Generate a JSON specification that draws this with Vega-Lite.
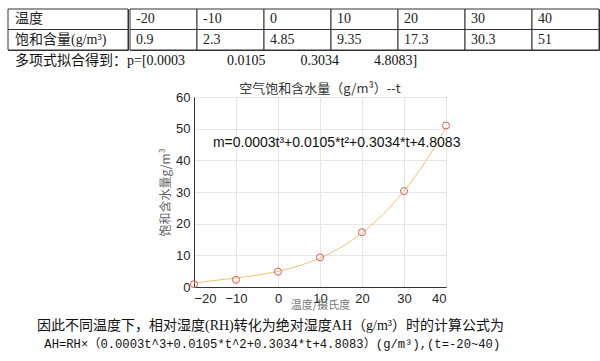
{
  "$schema": "https://vega.github.io/schema/vega-lite/v6.json",
  "padding": {"left": 7, "top": 8, "right": 4, "bottom": 4},
  "background": "white",
  "config": {
    "view": {"stroke": "#333", "strokeWidth": 1},
    "font": "Liberation Sans"
  },
  "datasets": {
    "labels": [
      {"row": 1, "col": "h", "text": "温度"},
      {"row": 2, "col": "h", "text": "饱和含量(g/m³)"}
    ],
    "cells": [
      {"row": 1, "col": 1, "text": "-20"},
      {"row": 1, "col": 2, "text": "-10"},
      {"row": 1, "col": 3, "text": "0"},
      {"row": 1, "col": 4, "text": "10"},
      {"row": 1, "col": 5, "text": "20"},
      {"row": 1, "col": 6, "text": "30"},
      {"row": 1, "col": 7, "text": "40"},
      {"row": 2, "col": 1, "text": "0.9"},
      {"row": 2, "col": 2, "text": "2.3"},
      {"row": 2, "col": 3, "text": "4.85"},
      {"row": 2, "col": 4, "text": "9.35"},
      {"row": 2, "col": 5, "text": "17.3"},
      {"row": 2, "col": 6, "text": "30.3"},
      {"row": 2, "col": 7, "text": "51"}
    ],
    "points": [
      {"t": -20, "m": 0.9},
      {"t": -10, "m": 2.3},
      {"t": 0, "m": 4.85},
      {"t": 10, "m": 9.35},
      {"t": 20, "m": 17.3},
      {"t": 30, "m": 30.3},
      {"t": 40, "m": 51}
    ],
    "curve": [
      {"t": -20, "m": 1.22}, {"t": -17.5, "m": 1.67}, {"t": -15, "m": 2.07}, {"t": -12.5, "m": 2.45},
      {"t": -10, "m": 2.84}, {"t": -7.5, "m": 3.26}, {"t": -5, "m": 3.73}, {"t": -2.5, "m": 4.29},
      {"t": 0, "m": 4.95}, {"t": 2.5, "m": 5.74}, {"t": 5, "m": 6.69}, {"t": 7.5, "m": 7.82},
      {"t": 10, "m": 9.16}, {"t": 12.5, "m": 10.73}, {"t": 15, "m": 12.55}, {"t": 17.5, "m": 14.66},
      {"t": 20, "m": 17.07}, {"t": 22.5, "m": 19.82}, {"t": 25, "m": 22.92}, {"t": 27.5, "m": 26.41},
      {"t": 30, "m": 30.30}, {"t": 32.5, "m": 34.63}, {"t": 35, "m": 39.41}, {"t": 37.5, "m": 44.68},
      {"t": 40, "m": 50.45}
    ],
    "note": [
      {"t": -15.5, "m": 45.5, "label": "m=0.0003t³+0.0105*t²+0.3034*t+4.8083"}
    ],
    "none": []
  },
  "title": {
    "text": "因此不同温度下，相对湿度(RH)转化为绝对湿度AH（g/m³）时的计算公式为",
    "subtitle": "\u200b\u00a0AH=RH×（0.0003t^3+0.0105*t^2+0.3034*t+4.8083）(g/m³),(t=-20~40)",
    "orient": "bottom",
    "anchor": "start",
    "align": "left",
    "dx": 30,
    "offset": 8,
    "font": "Liberation Serif, Noto Sans CJK SC",
    "fontSize": 14,
    "fontWeight": "normal",
    "color": "#111",
    "subtitleFont": "Liberation Mono, Noto Sans CJK SC",
    "subtitleFontSize": 12.2,
    "subtitleColor": "#111",
    "subtitlePadding": 5
  },
  "spacing": 14,
  "vconcat": [
    {
      "spacing": 0,
      "title": {
        "text": "多项式拟合得到：p=[0.0003\u00a0\u00a0\u00a0\u00a0\u00a0\u00a0\u00a0\u00a0\u00a0\u00a0\u00a0\u00a00.0105\u00a0\u00a0\u00a0\u00a0\u00a0\u00a0\u00a0\u00a0\u00a0\u00a00.3034\u00a0\u00a0\u00a0\u00a0\u00a0\u00a0\u00a0\u00a0\u00a0\u00a04.8083]",
        "orient": "bottom",
        "anchor": "start",
        "align": "left",
        "dx": 8,
        "offset": 3,
        "font": "Liberation Serif, Noto Sans CJK SC",
        "fontSize": 14,
        "fontWeight": "normal",
        "color": "#111"
      },
      "hconcat": [
        {
          "width": 120,
          "height": 41,
          "data": {"name": "labels"},
          "encoding": {
            "y": {"field": "row", "type": "ordinal", "axis": null, "scale": {"paddingInner": 0, "paddingOuter": 0}},
            "x": {"field": "col", "type": "nominal", "axis": null, "scale": {"paddingInner": 0, "paddingOuter": 0}}
          },
          "layer": [
            {"mark": {"type": "rect", "fill": "white", "stroke": "#333", "strokeWidth": 1}},
            {
              "mark": {"type": "text", "align": "left", "dx": 7, "fontSize": 14, "font": "Liberation Serif, Noto Sans CJK SC", "color": "#222"},
              "encoding": {
                "x": {"field": "col", "type": "nominal", "bandPosition": 0, "axis": null},
                "text": {"field": "text"}
              }
            }
          ]
        },
        {
          "width": 469,
          "height": 41,
          "data": {"name": "cells"},
          "encoding": {
            "y": {"field": "row", "type": "ordinal", "axis": null, "scale": {"paddingInner": 0, "paddingOuter": 0}},
            "x": {"field": "col", "type": "ordinal", "axis": null, "scale": {"paddingInner": 0, "paddingOuter": 0}}
          },
          "layer": [
            {"mark": {"type": "rect", "fill": "white", "stroke": "#333", "strokeWidth": 1}},
            {
              "mark": {"type": "text", "align": "left", "dx": 6, "fontSize": 14, "font": "Liberation Serif, Noto Sans CJK SC", "color": "#222"},
              "encoding": {
                "x": {"field": "col", "type": "ordinal", "bandPosition": 0, "axis": null},
                "text": {"field": "text"}
              }
            }
          ]
        }
      ]
    },
    {
      "spacing": 0,
      "hconcat": [
        {
          "width": 150,
          "height": 190,
          "view": {"stroke": "white", "fill": "white"},
          "data": {"name": "none"},
          "mark": {"type": "text"}
        },
        {
          "width": 252,
          "height": 190,
          "title": {
            "text": "空气饱和含水量（g/m³）--t",
            "frame": "group",
            "fontSize": 13,
            "fontWeight": "normal",
            "color": "#333",
            "offset": -5,
            "font": "Noto Sans CJK SC"
          },
          "encoding": {
            "x": {
              "field": "t", "type": "quantitative",
              "scale": {"domain": [-20, 40], "nice": false, "zero": false},
              "axis": {
                "title": "温度/摄氏度",
                "values": [-20, -10, 0, 10, 20, 30, 40],
                "grid": true, "gridColor": "#e6e6e6",
                "domainColor": "#333", "ticks": false,
                "labelFont": "Liberation Sans", "labelFontSize": 13, "labelColor": "#262626", "labelPadding": 5,
                "titleFont": "Noto Sans CJK SC", "titleFontSize": 11, "titleColor": "#777", "titleFontWeight": "normal",
                "titlePadding": -6
              }
            },
            "y": {
              "field": "m", "type": "quantitative",
              "scale": {"domain": [0, 60], "nice": false},
              "axis": {
                "title": "饱和含水量g/m³",
                "values": [0, 10, 20, 30, 40, 50, 60],
                "grid": true, "gridColor": "#e6e6e6",
                "domainColor": "#333", "ticks": false,
                "labelFont": "Liberation Sans", "labelFontSize": 13, "labelColor": "#262626", "labelPadding": 4,
                "titleFont": "Noto Sans CJK SC", "titleFontSize": 12, "titleColor": "#666", "titleFontWeight": "normal",
                "titlePadding": 3
              }
            }
          },
          "layer": [
            {
              "data": {"name": "curve"},
              "mark": {"type": "line", "color": "#f0c272", "strokeWidth": 1, "interpolate": "monotone"}
            },
            {
              "data": {"name": "points"},
              "mark": {"type": "point", "shape": "circle", "filled": false, "color": "#d9605a", "size": 50, "strokeWidth": 1, "opacity": 1}
            },
            {
              "data": {"name": "note"},
              "mark": {"type": "text", "align": "left", "baseline": "middle", "fontSize": 14, "font": "Liberation Sans", "color": "#111"},
              "encoding": {"text": {"field": "label"}}
            }
          ]
        }
      ]
    }
  ]
}
